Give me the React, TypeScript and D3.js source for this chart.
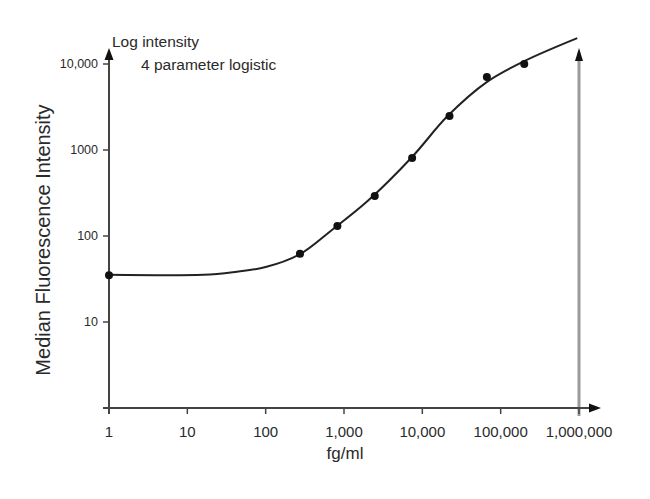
import React from "react";
import * as d3 from "d3";

const pointConc = [1, 274, 823, 2469, 7407, 22222, 66667, 200000];
const pointMFI = [35, 62, 131, 292, 807, 2485, 7060, 10000];

const curveConc = [1, 16, 38, 100, 270, 720, 2000, 7400, 21000, 67000, 200000, 950000];
const curveMFI = [35.5, 35.5, 38, 43.5, 61, 120, 255, 830, 2480, 6200, 10800, 20000];

const xTicks = [1, 10, 100, 1000, 10000, 100000, 1000000];
const xTickLabels = ["1", "10", "100", "1,000", "10,000", "100,000", "1,000,000"];
const yTicks = [10, 100, 1000, 10000];
const yTickLabels = ["10", "100", "1000", "10,000"];

const FONT = "'Liberation Sans', Arial, sans-serif";

export default function App() {
  const x = d3.scaleLog().domain([1, 1e6]).range([109, 579]);
  const y = d3.scaleLog().domain([1, 10000]).range([408, 64]);

  const curveData = curveConc.map((c, i) => [c, curveMFI[i]] as [number, number]);
  const line = d3
    .line<[number, number]>()
    .x((d) => x(d[0]))
    .y((d) => y(d[1]))
    .curve(d3.curveCatmullRom.alpha(0.5));

  const axisColor = "#444";
  const textColor = "#2a2a2a";

  return (
    <div style={{ position: "absolute", left: 0, top: 0 }}>
      <svg width={650} height={499} style={{ display: "block", background: "#fff" }}>
        {/* right reference line */}
        <line x1={x(1e6)} x2={x(1e6)} y1={416} y2={60} stroke="#9a9a9a" strokeWidth={3} />
        <path d={`M${x(1e6)},48 L${x(1e6) - 4},61 L${x(1e6) + 4},61 Z`} fill="#111" />

        {/* x axis */}
        <line x1={103} x2={594} y1={408} y2={408} stroke={axisColor} strokeWidth={2} />
        <path d="M601,408 L589,403.5 L589,412.5 Z" fill="#111" />
        {xTicks.map((t, i) => (
          <g key={"xt" + i}>
            <line x1={x(t)} x2={x(t)} y1={408} y2={i === 0 ? 413 : 414} stroke={axisColor} strokeWidth={1.5} />
            <text
              x={x(t)}
              y={432}
              dy="0.35em"
              textAnchor="middle"
              fontFamily={FONT}
              fontSize={15}
              fill={textColor}
            >
              {xTickLabels[i]}
            </text>
          </g>
        ))}
        <text x={345} y={453} dy="0.35em" textAnchor="middle" fontFamily={FONT} fontSize={17} fill={textColor}>
          fg/ml
        </text>

        {/* y axis */}
        <line x1={109} x2={109} y1={414} y2={58} stroke={axisColor} strokeWidth={2} />
        <path d="M109,48 L104.5,60 L113.5,60 Z" fill="#111" />
        {yTicks.map((t, i) => (
          <g key={"yt" + i}>
            <line x1={103} x2={109} y1={y(t)} y2={y(t)} stroke={axisColor} strokeWidth={1.5} />
            <text
              x={98}
              y={y(t)}
              dy="0.35em"
              textAnchor="end"
              fontFamily={FONT}
              fontSize={12.5}
              fill={textColor}
            >
              {yTickLabels[i]}
            </text>
          </g>
        ))}
        <text
          transform="translate(50,240) rotate(-90)"
          textAnchor="middle"
          fontFamily={FONT}
          fontSize={20}
          fill={textColor}
        >
          Median Fluorescence Intensity
        </text>

        {/* annotations */}
        <text x={112} y={47} fontFamily={FONT} fontSize={15.5} fill={textColor}>
          Log intensity
        </text>
        <text x={141} y={70} fontFamily={FONT} fontSize={15.5} fill={textColor}>
          4 parameter logistic
        </text>

        {/* fitted curve */}
        <path d={line(curveData) || ""} fill="none" stroke="#222" strokeWidth={2} />

        {/* data points */}
        {pointConc.map((c, i) => (
          <circle key={"p" + i} cx={x(c)} cy={y(pointMFI[i])} r={4} fill="#111" />
        ))}
      </svg>
    </div>
  );
}
